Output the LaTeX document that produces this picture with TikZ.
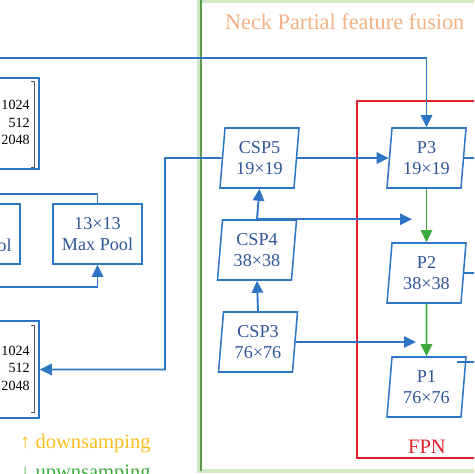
\documentclass[tikz,border=0pt]{standalone}
\usepackage{fontspec}
\setmainfont{Liberation Serif}
\usetikzlibrary{arrows.meta,positioning,shapes.geometric}
\definecolor{lineblue}{RGB}{46,117,198}
\definecolor{textblue}{RGB}{47,85,151}
\definecolor{fpnred}{RGB}{224,32,40}
\definecolor{upgreen}{RGB}{60,170,60}
\definecolor{neckgreen}{RGB}{90,155,75}
\definecolor{bandgreen}{RGB}{208,234,200}
\definecolor{titleorange}{RGB}{244,177,131}
\definecolor{downgold}{RGB}{250,190,30}
\begin{document}
\begin{tikzpicture}[x=0.03cm,y=-0.03cm,>={Triangle[length=0.36cm,width=0.34cm]}]
  \tikzstyle{sbox}=[draw=lineblue,line width=1.3pt,text=textblue,font=\fontsize{15.5}{18}\selectfont,align=center]
  \tikzstyle{pbox}=[sbox,trapezium,trapezium left angle=82,trapezium right angle=98,trapezium stretches body,minimum width=2.37cm,minimum height=1.8cm,inner sep=1pt]
  \tikzstyle{link}=[draw=lineblue,line width=1.6pt]
  \tikzstyle{conn}=[link,->]
  \tikzstyle{upflow}=[draw=upgreen,line width=1.5pt,->]
  \tikzstyle{bracket}=[draw=black!65,line width=0.8pt]
  \useasboundingbox (0,0) rectangle (474,474);
  \clip (0,0) rectangle (474,474);
  % neck frame
  \draw[bandgreen,line width=0.14cm] (199,0.5) rectangle (540,471);
  \draw[neckgreen,line width=1pt] (201,-5) -- (201,471);
  \node[text=titleorange,font=\fontsize{19}{22}\selectfont,anchor=base west] (necktitle) at (221,29) {Neck Partial feature fusion};
  \draw[fpnred,line width=1.6pt] (357,101) rectangle (500,458);
  \node[text=fpnred,font=\fontsize{17.5}{20}\selectfont,anchor=base] (fpn) at (427,453) {FPN};
  % backbone side
  \node[sbox,minimum width=3cm,minimum height=2.73cm] (spp1) at (-11,123.5) {};
  \node[anchor=east,align=right,inner sep=1pt,font=\fontsize{12}{15}\selectfont] (spp1txt) at (31,122.5) {1024\\512\\2048};
  \draw[bracket] (31,81) -| (34,167) -- (31,167);
  \node[sbox,minimum width=3cm,minimum height=2.91cm] (spp2) at (-11,369.5) {};
  \node[anchor=east,align=right,inner sep=1pt,font=\fontsize{12}{15}\selectfont] (spp2txt) at (31,368) {1024\\512\\2048};
  \draw[bracket] (31,325) -| (34,412) -- (31,412);
  \node[sbox,minimum width=2.64cm,minimum height=1.8cm] (pool1) at (-24,234) {\strut\\Max Pool};
  \node[sbox,minimum width=2.67cm,minimum height=1.8cm] (pool2) at (97.5,234) {13×13\\Max Pool};
  % CSP and P levels
  \node[pbox] (csp5) at (259.5,158) {CSP5\\19×19};
  \node[pbox] (csp4) at (257,250) {CSP4\\38×38};
  \node[pbox] (csp3) at (258,342) {CSP3\\76×76};
  \node[pbox] (p3) at (426.5,158) {P3\\19×19};
  \node[pbox] (p2) at (426.5,273) {P2\\38×38};
  \node[pbox] (p1) at (426.5,387) {P1\\76×76};
  % connectors
  \coordinate (poolin) at (-5,194);
  \coordinate (poolout) at (-5,287);
  \coordinate (neckin) at (-5,58);
  \coordinate (bend) at (165,158);
  \coordinate (mid32) at (412,220);
  \coordinate (mid21) at (416,342);
  \coordinate (out3) at (480,158);
  \coordinate (p1out) at ([yshift=-0.18cm]p1.north east);
  \draw[link] (poolin) -| (pool2.north);
  \draw[conn] (poolout) -| (pool2.south);
  \draw[conn] (neckin) -| (p3.north);
  \draw[conn] (csp5.west) -- (bend) |- (spp2.east);
  \draw[conn] (csp5.east) -- (p3.west);
  \draw[conn] (csp4.north) -- (csp5.south);
  \draw[conn] (csp3.north) -- (csp4.south);
  \draw[conn] (csp4.north) -- (csp4.north -| mid32);
  \draw[conn] (csp3.east) -- (csp3.east -| mid21);
  \draw[upflow] (p3.south) -- (p2.north);
  \draw[upflow] (p2.south) -- (p1.north);
  \draw[link] (p3.east) -- (p3.east -| out3);
  \draw[link] (p2.east) -- (p2.east -| out3);
  \draw[link] (p1out) -- (p1out -| out3);
  % legend
  \node[text=downgold,font=\fontsize{17.5}{20}\selectfont,anchor=base west] (legdown) at (16,448) {{\bfseries ↑} downsamping};
  \node[text=upgreen,font=\fontsize{17.5}{20}\selectfont,anchor=base west] (legup) at (16,478) {{\bfseries ↓} upwnsamping};
\end{tikzpicture}
\end{document}
